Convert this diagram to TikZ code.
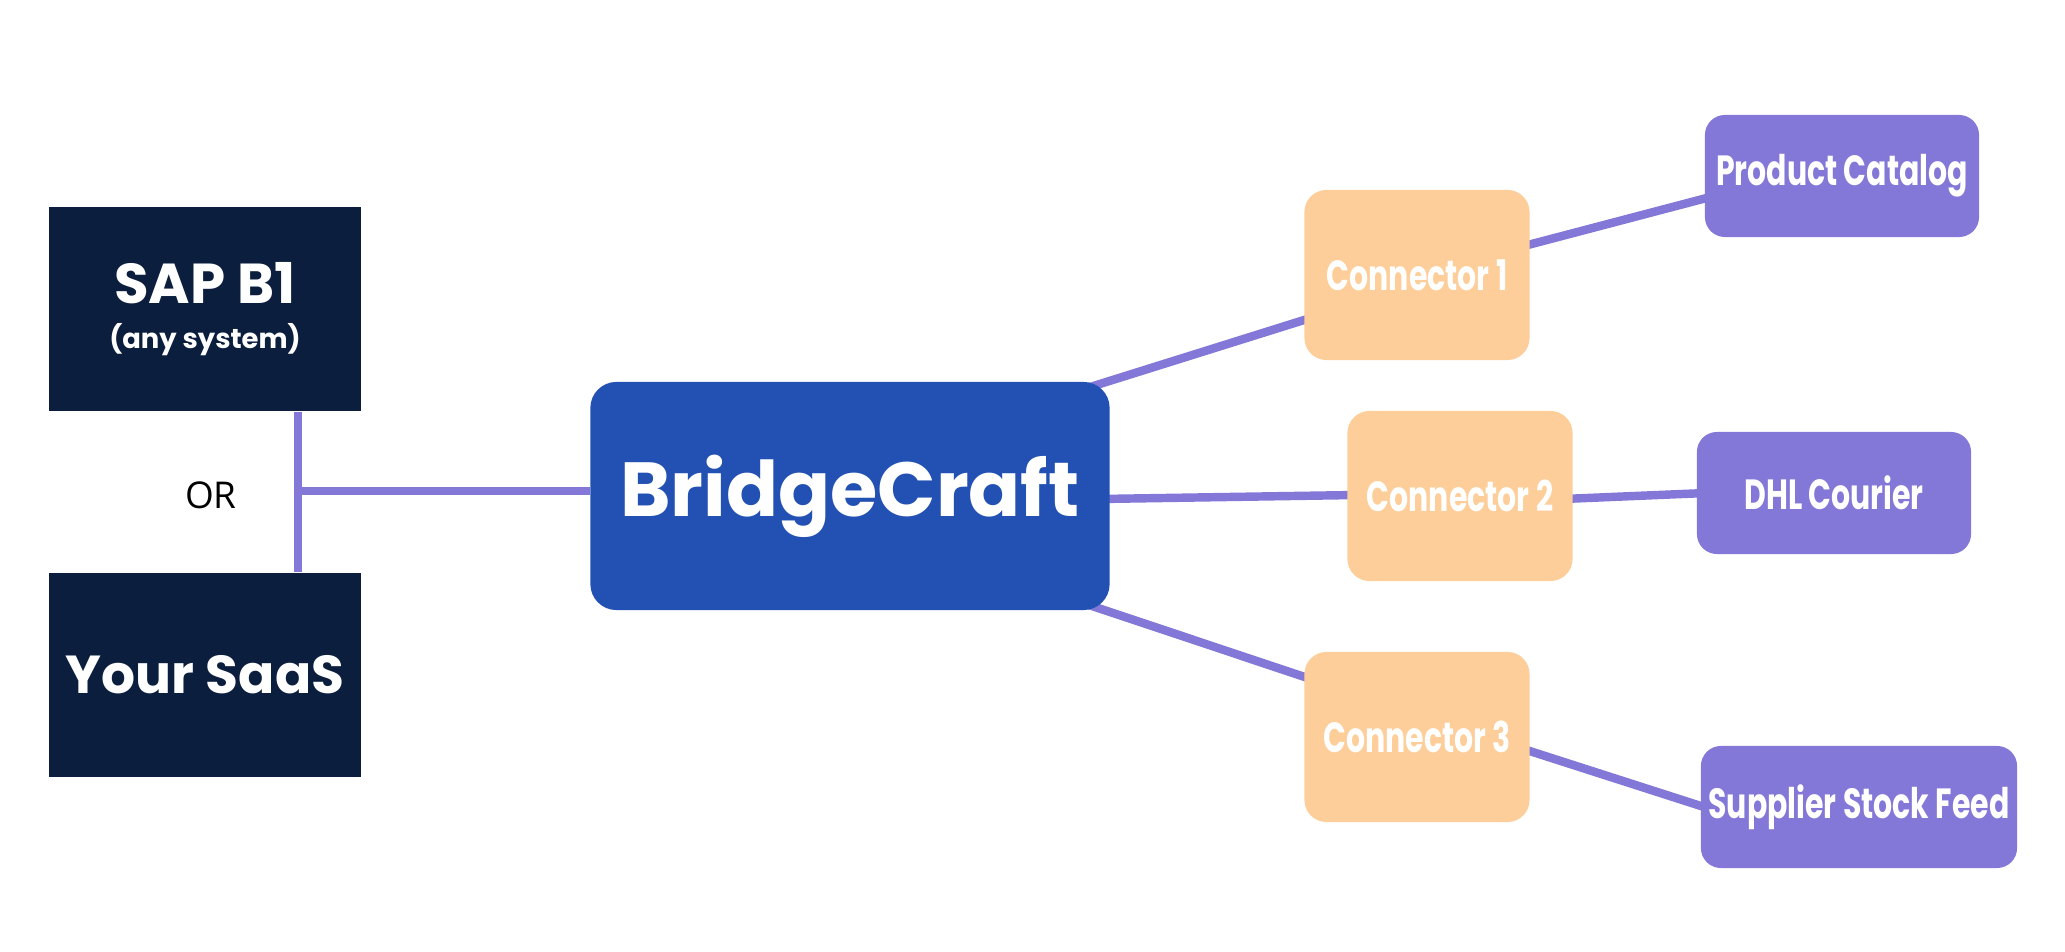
\documentclass[tikz,border=0pt]{standalone}
\usepackage{fontspec}
\setmainfont{Poppins}
\newfontfamily\orfont{Open Sans}
\usetikzlibrary{backgrounds}
\definecolor{navy}{HTML}{0C1E3E}
\definecolor{hubblue}{HTML}{2251B3}
\definecolor{peach}{HTML}{FDCE9A}
\definecolor{lilac}{HTML}{8378D8}
\newcommand{\narrow}[1]{\scalebox{0.71}[1]{#1}}

\begin{document}
\begin{tikzpicture}[
  x=0.01cm, y=-0.01cm,
  sysbox/.style={fill=navy, text=white, align=center, inner sep=0pt,
                 minimum width=3.12cm, minimum height=2.04cm},
  hub/.style={fill=hubblue, text=white, rounded corners=0.26cm, inner sep=0pt,
              minimum width=5.19cm, minimum height=2.28cm,
              font=\bfseries\fontsize{21.8}{26}\selectfont},
  conn/.style={fill=peach, text=white, rounded corners=0.22cm, inner sep=0pt,
               minimum width=2.25cm, minimum height=1.7cm,
               font=\bfseries\fontsize{12}{14}\selectfont},
  dest/.style={fill=lilac, text=white, rounded corners=0.2cm, inner sep=0pt,
               minimum width=2.74cm, minimum height=1.22cm,
               font=\bfseries\fontsize{12}{14}\selectfont},
  link/.style={draw=lilac, line width=2.4pt}]
 \useasboundingbox (0,0) rectangle (2065,952);
 % source systems
 \node[sysbox] (sap) at (205,309)
      {{\bfseries\fontsize{16}{19}\selectfont SAP B1}\\[1pt]
       {\bfseries\fontsize{7.8}{10}\selectfont (any system)}};
 \node[sysbox, font=\bfseries\fontsize{15.2}{18}\selectfont] (saas) at (205,675) {Your SaaS};
 \node[font=\orfont\fontsize{10.5}{12}\selectfont] (or) at (211,495) {OR};
 % hub and connectors
 \node[hub] (bc) at (850,496) {BridgeCraft};
 \node[conn] (c1) at (1417,275) {\narrow{Connector 1}};
 \node[conn] (c2) at (1460,496) {\narrow{Connector 2}};
 \node[conn] (c3) at (1417,737) {\narrow{Connector 3}};
 % destinations
 \node[dest] (pc) at (1842,176) {\narrow{Product Catalog}};
 \node[dest] (dhl) at (1834,493) {\narrow{DHL Courier}};
 \node[dest, minimum width=3.16cm] (ssf) at (1859,807) {\narrow{Supplier Stock Feed}};
 \coordinate (jn) at (298,491);
 \begin{scope}[on background layer]
  \draw[link] (jn |- sap.south) -- (jn |- saas.north);
  \draw[link] (jn) -- (jn -| bc.west);
  \draw[link] ([shift={(-40,12)}]bc.north east) -- ([shift={(10,42)}]c1.west);
  \draw[link] ([shift={(-10,-28)}]c1.east) -- ([shift={(10,20)}]pc.west);
  \draw[link] ([shift={(-10,3)}]bc.east) -- ([shift={(10,-1)}]c2.west);
  \draw[link] ([shift={(-10,3)}]c2.east) -- ([shift={(10,0)}]dhl.west);
  \draw[link] ([shift={(-40,-12)}]bc.south east) -- ([shift={(10,-57)}]c3.west);
  \draw[link] ([shift={(-10,11)}]c3.east) -- ([shift={(10,2)}]ssf.west);
 \end{scope}
\end{tikzpicture}
\end{document}
